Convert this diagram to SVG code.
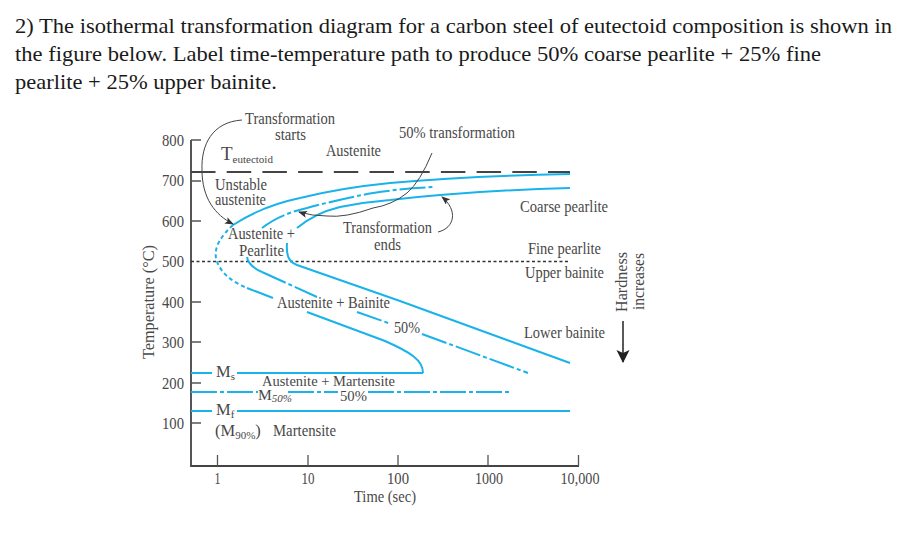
<svg xmlns="http://www.w3.org/2000/svg" width="910" height="546" viewBox="0 0 910 546">
<defs>
<marker id="ah" markerWidth="9" markerHeight="7" refX="8" refY="3.5" orient="auto" markerUnits="userSpaceOnUse"><path d="M0,0 L9,3.5 L0,7 L2,3.5 Z" fill="#333"/></marker>
<marker id="ahb" markerWidth="14" markerHeight="16" refX="12" refY="6.5" orient="auto" markerUnits="userSpaceOnUse"><path d="M0,0 L13,6.5 L0,13 L3,6.5 Z" fill="#222"/></marker>
</defs>
<style>
text{font-family:"Liberation Serif","Times New Roman",serif;fill:#484848;font-size:16.5px}
.q{fill:#1a1a1a;font-size:21.8px}
.sub{font-size:11px}
.t{font-size:19px}
.s{font-size:15.500px}
.ax{stroke:#444;stroke-width:1.8;fill:none}
.tk{stroke:#555;stroke-width:1.3;fill:none}
.c{stroke:#19b3ea;stroke-width:2;fill:none}
.d{stroke:#19b3ea;stroke-width:2;fill:none;stroke-dasharray:26 3 4 3}
.o{stroke:#19b3ea;stroke-width:2;fill:none;stroke-dasharray:4 3}
.a{stroke:#444;stroke-width:1;fill:none;marker-end:url(#ah)}
</style>
<rect width="910" height="546" fill="#fff"/>
<g id="question">
<text class="q" x="15" y="33" textLength="877" lengthAdjust="spacingAndGlyphs">2) The isothermal transformation diagram for a carbon steel of eutectoid composition is shown in</text>
<text class="q" x="15" y="61" textLength="806" lengthAdjust="spacingAndGlyphs">the figure below. Label time-temperature path to produce 50% coarse pearlite + 25% fine</text>
<text class="q" x="15" y="89" textLength="262" lengthAdjust="spacingAndGlyphs">pearlite + 25% upper bainite.</text>
</g>
<g id="axes">
<path class="ax" d="M191,140 V466 H579"/>
<path class="tk" d="M191,140 H201 M191,181 H201 M191,221 H201 M191,302 H201 M191,342 H201 M191,383 H201 M191,423 H201 M217.500,455 V466 M308,455 V466 M398,455 V466 M488,455 V466 M578.500,455 V466"/>
<g text-anchor="middle">
<text x="173" y="146" textLength="22" lengthAdjust="spacingAndGlyphs">800</text><text x="173" y="186" textLength="22" lengthAdjust="spacingAndGlyphs">700</text><text x="173" y="227" textLength="22" lengthAdjust="spacingAndGlyphs">600</text><text x="173" y="267" textLength="22" lengthAdjust="spacingAndGlyphs">500</text><text x="173" y="308" textLength="22" lengthAdjust="spacingAndGlyphs">400</text><text x="173" y="348" textLength="22" lengthAdjust="spacingAndGlyphs">300</text><text x="173" y="389" textLength="22" lengthAdjust="spacingAndGlyphs">200</text><text x="173" y="429" textLength="22" lengthAdjust="spacingAndGlyphs">100</text>
<text x="217.500" y="484" textLength="6" lengthAdjust="spacingAndGlyphs">1</text><text x="308" y="484" textLength="13" lengthAdjust="spacingAndGlyphs">10</text><text x="398" y="484" textLength="22" lengthAdjust="spacingAndGlyphs">100</text><text x="489" y="484" textLength="28" lengthAdjust="spacingAndGlyphs">1000</text><text x="580" y="484" textLength="39" lengthAdjust="spacingAndGlyphs">10,000</text>
</g>
<text x="354" y="502" textLength="62" lengthAdjust="spacingAndGlyphs">Time (sec)</text>
<text transform="translate(154,359) rotate(-90)" textLength="114" lengthAdjust="spacingAndGlyphs">Temperature (°C)</text>
</g>
<g id="connectors">
<path d="M191,172 H570" fill="none" stroke="#444" stroke-width="1.8" stroke-dasharray="24.500 11.200"/>
<path d="M191,261.500 H570" fill="none" stroke="#333" stroke-width="1.5" stroke-dasharray="3 2.500"/>
<path class="c" d="M233,225 Q262,206 300,198 Q340,188 390,183 Q470,176 570,174"/>
<path class="o" d="M233,225 C221,236 214,247 216,258 C219,272 232,282 247,288"/>
<path class="c" d="M247,288 L273,298"/>
<path class="c" d="M307,312 L385,341 C410,352 423,360 423,373"/>
<path class="d" d="M262,228 Q280,214 307,208 Q340,199 373,193 Q405,188 435,187"/>
<path class="c" d="M247,257 C248,264 253,268 262,272"/>
<path class="d" d="M262,272 L317,297"/>
<path class="d" d="M357,312 L391,324"/>
<path class="d" d="M422,334 L528,373"/>
<path class="c" d="M297,228 Q315,213 340,207 Q365,202 390,200 Q415,197 440,195 Q500,190 570,188"/>
<path class="c" d="M287,243 C286,256 289,262 297,265 L400,301 L570,363"/>
<path class="c" d="M191,373 H212 M237,373 H423"/>
<path class="d" d="M191,392 H258 M288,392 H338 M368,392 H512"/>
<path class="c" d="M191,411 H212 M237,411 H570"/>
<path class="a" d="M242,120 C212,122 201,145 202,170 C202,198 215,215 233,224"/>
<path class="a" d="M432,153 Q420,182 407,193 Q392,205 373,208 Q345,218 327,216 Q312,216 299,212"/>
<path class="a" d="M438,232 C455,228 458,210 442,197"/>
<path d="M623,321 V362" fill="none" stroke="#222" stroke-width="1.5" marker-end="url(#ahb)"/>
</g>
<g id="labels">
<g id="transformation-starts"><text x="245" y="124" textLength="90" lengthAdjust="spacingAndGlyphs">Transformation</text><text x="275" y="140" textLength="31" lengthAdjust="spacingAndGlyphs">starts</text></g>
<text id="teutectoid" x="221" y="160" class="t">T<tspan class="sub" dy="3">eutectoid</tspan></text>
<text id="austenite" x="326" y="156" textLength="55" lengthAdjust="spacingAndGlyphs">Austenite</text>
<text id="t50" x="399" y="138" textLength="116" lengthAdjust="spacingAndGlyphs">50% transformation</text>
<g id="unstable"><text x="215" y="190" textLength="52" lengthAdjust="spacingAndGlyphs">Unstable</text><text x="215" y="205" textLength="51" lengthAdjust="spacingAndGlyphs">austenite</text></g>
<g id="aust-pearlite"><text x="228" y="239" textLength="67" lengthAdjust="spacingAndGlyphs">Austenite +</text><text x="239" y="256" textLength="45" lengthAdjust="spacingAndGlyphs">Pearlite</text></g>
<g id="transformation-ends"><text x="343" y="233" textLength="89" lengthAdjust="spacingAndGlyphs">Transformation</text><text x="374" y="250" textLength="27" lengthAdjust="spacingAndGlyphs">ends</text></g>
<text id="coarse" x="520" y="212" textLength="88" lengthAdjust="spacingAndGlyphs">Coarse pearlite</text>
<text id="fine" x="528" y="254" textLength="73" lengthAdjust="spacingAndGlyphs">Fine pearlite</text>
<text id="upper" x="525" y="278" textLength="79" lengthAdjust="spacingAndGlyphs">Upper bainite</text>
<text id="lower" x="524" y="338" textLength="81" lengthAdjust="spacingAndGlyphs">Lower bainite</text>
<text id="aust-bainite" x="277" y="308" textLength="113" lengthAdjust="spacingAndGlyphs">Austenite + Bainite</text>
<text id="b50" x="394" y="333" textLength="26" lengthAdjust="spacingAndGlyphs">50%</text>
<text id="ms" x="216" y="377">M<tspan class="sub" dy="3">s</tspan></text>
<text id="aust-mart" class="s" x="262" y="386" textLength="133" lengthAdjust="spacingAndGlyphs">Austenite + Martensite</text>
<text id="m50" x="258" y="400" class="s">M<tspan class="sub" dy="2" font-style="italic">50%</tspan></text>
<text id="m50b" class="s" x="340" y="401" textLength="27" lengthAdjust="spacingAndGlyphs">50%</text>
<text id="mf" x="216" y="415">M<tspan class="sub" dy="3">f</tspan></text>
<text id="m90" x="215" y="436">(M<tspan class="sub" dy="3">90%</tspan><tspan dy="-3">)</tspan></text>
<text id="martensite" x="273" y="436" textLength="63" lengthAdjust="spacingAndGlyphs">Martensite</text>
<g id="hardness"><text transform="translate(627,312) rotate(-90)" textLength="60" lengthAdjust="spacingAndGlyphs">Hardness</text><text transform="translate(644,310) rotate(-90)" textLength="57" lengthAdjust="spacingAndGlyphs">increases</text></g>
</g>
</svg>
